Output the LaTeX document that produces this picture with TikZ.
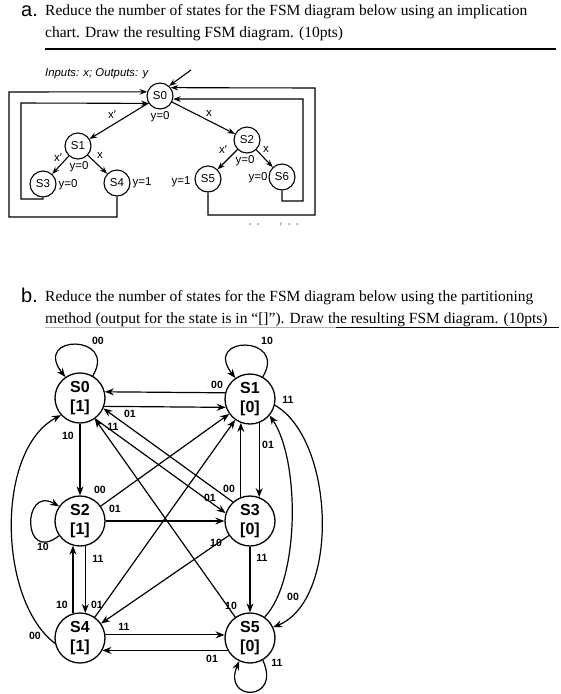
\documentclass[tikz,border=0pt]{standalone}
\usepackage{fontspec}
\setmainfont{Liberation Serif}
\newfontfamily\arialf{Liberation Sans}
\usetikzlibrary{arrows.meta,calc}
\begin{document}
\begin{tikzpicture}[x=1pt,y=-1pt,
  aline/.style={line width=1.1pt},
  aarr/.style={aline,-{Stealth[length=7.5pt,width=5.5pt]}},
  astate/.style={circle,draw,line width=1.1pt,minimum size=26pt,inner sep=0pt,font=\arialf\fontsize{11.5}{12}\selectfont},
  alab/.style={font=\arialf\fontsize{11.5}{12}\selectfont,inner sep=0pt},
  bstate/.style={circle,draw,line width=1.3pt,minimum size=50pt,inner sep=0pt,align=center,font=\arialf\bfseries\fontsize{16}{19}\selectfont},
  barr/.style={line width=1.2pt,-{Stealth[length=9pt,width=7pt,inset=3pt]}},
  blab/.style={font=\arialf\bfseries\fontsize{10.5}{12}\selectfont,inner sep=0pt},
  ttl/.style={anchor=base west,inner sep=0pt,font=\fontsize{15.5}{18}\selectfont},
  hd/.style={anchor=base west,inner sep=0pt,font=\arialf\fontsize{20}{22}\selectfont},
]
\useasboundingbox (0,0) rectangle (561,694);
% ---------- headings
\node[hd] (ha) at (21,16) {a.};
\node[ttl] (ta1) at (45,15.5) {Reduce the number of states for the FSM diagram below using an implication};
\node[ttl] (ta2) at (45,37.5) {chart. Draw the resulting FSM diagram. (10pts)};
\draw[line width=1.5pt] (45,49) -- (556,49);
\node[hd] (hb) at (21,302) {b.};
\node[ttl] (tb1) at (45,301) {Reduce the number of states for the FSM diagram below using the partitioning};
\node[ttl] (tb2) at (45,323) {method (output for the state is in “[]”). Draw the resulting FSM diagram. (10pts)};
\draw[line width=1pt,gray!60] (45,327.5) -- (336,327.5);
\draw[line width=1.4pt] (336,327.5) -- (559,327.5);
% ---------- part a
\node[alab,anchor=west] (inp) at (45,74) {\resizebox{103pt}{!}{\itshape Inputs: x; Outputs: y}};
\node[astate] (A0) at (160,96) {S0};
\node[astate] (A1) at (78,146) {S1};
\node[astate] (A2) at (247,140) {S2};
\node[astate] (A3) at (43,184) {S3};
\node[astate] (A4) at (117,183) {S4};
\node[astate] (A5) at (208,179) {S5};
\node[astate] (A6) at (282,177) {S6};
\coordinate (st) at (191,70);
\draw[aarr] (st) -- (A0.48);
\draw[aarr] (A0) -- (A1);
\draw[aarr] (A0) -- (A2);
\draw[aarr] (A1) -- (A3);
\draw[aarr] (A1) -- (A4);
\draw[aarr] (A2) -- (A5);
\draw[aarr] (A2) -- (A6);
\draw[aarr] (A4.south) -- (117,217) -- (9,217) -- (9,92) -- (A0.162);
\draw[aarr] (A3.south) -- (43,199) -- (21,199) -- (21,103) -- (A0.213);
\draw[aarr] (A5.south) -- (208,215) -- (315,215) -- (315,88) -- (A0.38);
\draw[aarr] (A6.south) -- (282,201) -- (303,201) -- (303,99) -- (A0.-13);
\node[alab] at (112,115) {x′};
\node[alab] at (160,117) {y=0};
\node[alab] at (209,113) {x};
\node[alab] at (58,158) {x′};
\node[alab] at (100,155) {x};
\node[alab] at (79,167) {y=0};
\node[alab] at (68,185) {y=0};
\node[alab] at (142,183) {y=1};
\node[alab] at (181,182) {y=1};
\node[alab] at (223,150) {x′};
\node[alab] at (245,161) {y=0};
\node[alab] at (266,149) {x};
\node[alab] at (258,178) {y=0};
\fill[gray!50] (249,223) rectangle (251,225) (257,223) rectangle (259,225)
  (280,222) rectangle (281.5,225.5) (288,223) rectangle (290,225) (296,223) rectangle (298,225);
% ---------- part b
\node[bstate] (B0) at (80,398) {S0\\{}[1]};
\node[bstate] (B1) at (250,399) {S1\\{}[0]};
\node[bstate] (B2) at (80,521) {S2\\{}[1]};
\node[bstate] (B3) at (250,521) {S3\\{}[0]};
\node[bstate] (B4) at (80,638) {S4\\{}[1]};
\node[bstate] (B5) at (250,638) {S5\\{}[0]};
\draw[barr] (B1.166) -- (B0.14);
\draw[barr] (B0.-19) -- (B1.199);
\draw[barr] (B0) -- (B2);
\draw[barr] (B0.-54.6) -- (B3.162.8);
\draw[barr] (B3.132.6) -- (B0.-24.4);
\draw[barr] (B1.-69) -- (B3.69);
\draw[barr] (B3.111) -- (B1.-111);
\draw[barr] (B2) -- (B1);
\draw[barr] (B2) -- (B3);
\draw[barr] (B2.-78) -- (B4.78);
\draw[barr] (B4.106) -- (B2.-106);
\draw[barr] (B3) -- (B4);
\draw[barr] (B3) -- (B5);
\draw[barr] (B4) -- (B1);
\draw[barr] (B4.7) -- (B5.173);
\draw[barr] (B5.209) -- (B4.-29);
\draw[barr] (B5) -- (B0);
\draw[barr] (B4.192) .. controls (-2,600) and (-5,450) .. (B0.222);
\draw[barr] (B1.-14) .. controls (335,440) and (340,600) .. (B5.25);
\draw[barr] (B5.55) .. controls (300,580) and (300,460) .. (B1.-40);
\draw[barr] (B0.60) .. controls (118,334) and (32,334) .. (B0.125);
\draw[barr] (B1.60) .. controls (288,335) and (202,335) .. (B1.125);
\draw[barr] (B2.215) .. controls (22,565) and (22,485) .. (B2.145);
\draw[barr] (B5.300) .. controls (282,702) and (222,702) .. (B5.245);
\node[blab] at (98,341) {00};
\node[blab] at (267,341) {10};
\node[blab] at (217,385) {00};
\node[blab] at (130,414) {01};
\node[blab] at (113,427) {11};
\node[blab] at (68,436) {10};
\node[blab] at (268,445) {01};
\node[blab] at (288,400) {11};
\node[blab] at (100,490) {00};
\node[blab] at (115,509) {01};
\node[blab] at (43,547) {10};
\node[blab] at (98,559) {11};
\node[blab] at (229,489) {00};
\node[blab] at (210,498) {01};
\node[blab] at (216,543) {10};
\node[blab] at (262,558) {11};
\node[blab] at (62,605) {10};
\node[blab] at (97,605) {01};
\node[blab] at (35,636) {00};
\node[blab] at (124,627) {11};
\node[blab] at (231,606) {10};
\node[blab] at (293,597) {00};
\node[blab] at (212,659) {01};
\node[blab] at (277,663) {11};
\end{tikzpicture}
\end{document}
